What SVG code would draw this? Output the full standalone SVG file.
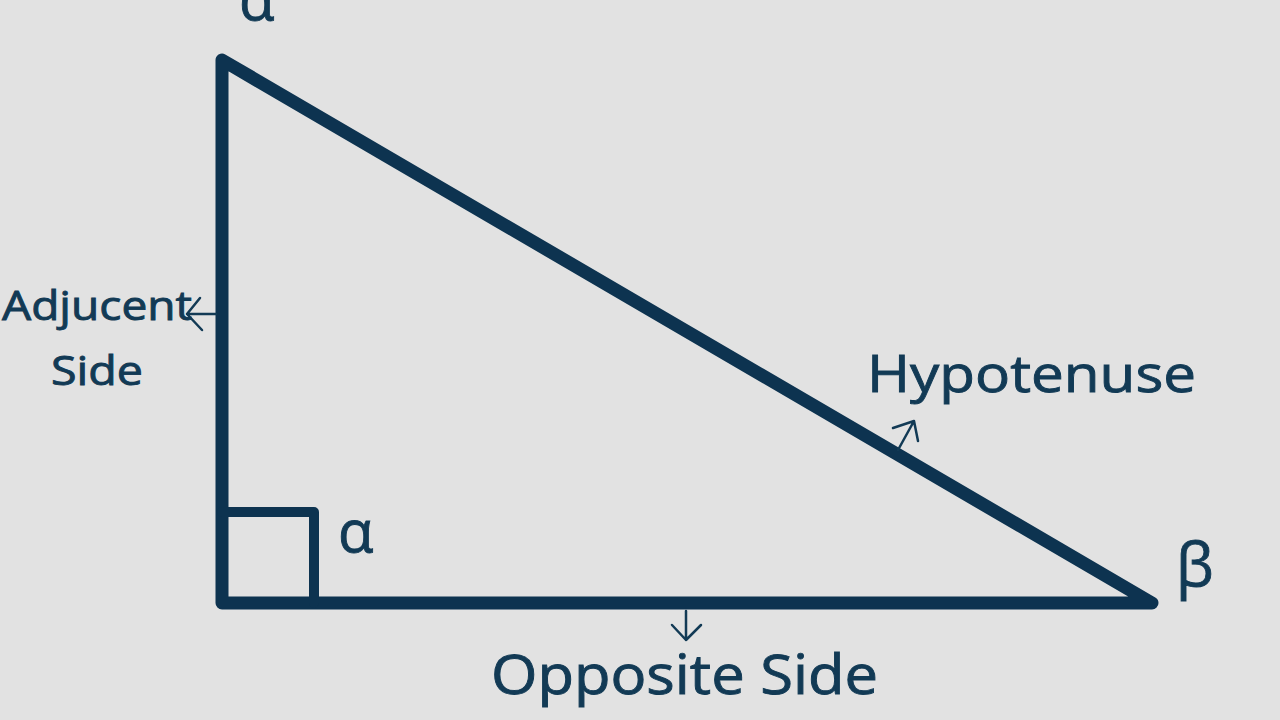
<svg xmlns="http://www.w3.org/2000/svg" width="1280" height="720" viewBox="0 0 1280 720">
<style>
.lbl{font-family:"Open Sans","Noto Sans","DejaVu Sans",sans-serif;fill:#123a55;stroke:#123a55;stroke-width:0.9;}
.edge{fill:none;stroke:#0d3350;stroke-linejoin:round;stroke-linecap:round;}
.arr{fill:none;stroke:#123a55;stroke-width:2.5;stroke-linecap:round;stroke-linejoin:round;}
</style>
<rect width="1280" height="720" fill="#e2e2e2"/>
<g id="triangle">
<path class="edge" stroke-width="13" d="M222,60 L222,603 L1152,603 Z"/>
</g>
<g id="right-angle">
<path class="edge" stroke-width="10" d="M222,512 L314,512 L314,603"/>
</g>
<g id="connectors">
<path class="arr" d="M216,314 L187,314 M200,298 L187,314 L202,330"/>
<path class="arr" d="M898,450 L914,421 M893,428 L914,421 L918,441"/>
<path class="arr" d="M686,611 L686,640 M672,625 L686,640 L701,625"/>
</g>
<g id="alpha-top"><text class="lbl" x="239" y="20" font-size="58">α</text></g>
<g id="alpha"><text class="lbl" x="338" y="552" font-size="58">α</text></g>
<g id="beta"><text class="lbl" x="1176" y="586" font-size="60">β</text></g>
<g id="hypotenuse"><text class="lbl" x="867" y="392" font-size="52" textLength="329" lengthAdjust="spacingAndGlyphs">Hypotenuse</text></g>
<g id="adjacent"><text class="lbl" x="2" y="320" font-size="40" textLength="190" lengthAdjust="spacingAndGlyphs">Adjucent</text>
<text class="lbl" x="51" y="385" font-size="40" textLength="92" lengthAdjust="spacingAndGlyphs">Side</text></g>
<g id="opposite"><text class="lbl" x="491" y="694" font-size="54" textLength="387" lengthAdjust="spacingAndGlyphs">Opposite Side</text></g>
</svg>
